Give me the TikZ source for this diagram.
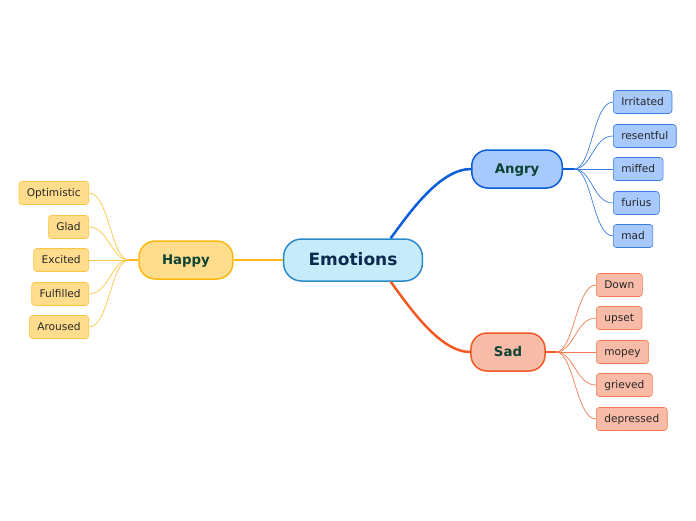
\documentclass[tikz,border=0pt]{standalone}
\usepackage{fontspec}
\setmainfont{DejaVu Sans}
\usepackage{xcolor}
\usepackage{tikz}
\usetikzlibrary{positioning}
\definecolor{rootfill}{HTML}{C6ECFC}
\definecolor{rootline}{HTML}{2B8ACB}
\definecolor{roottext}{HTML}{0B2A4E}
\definecolor{maintext}{HTML}{0B4233}
\definecolor{angryfill}{HTML}{A7C9FB}
\definecolor{angryline}{HTML}{0B5ED7}
\definecolor{sadfill}{HTML}{F8BBA8}
\definecolor{sadline}{HTML}{F15A24}
\definecolor{happyfill}{HTML}{FFDD8D}
\definecolor{happyline}{HTML}{FDB813}

\begin{document}
\begin{tikzpicture}[
  x=1pt, y=-1pt,
  root/.style={rectangle, draw=rootline, fill=rootfill, line width=1.5pt, rounded corners=18pt, minimum height=42pt, inner xsep=25pt, text height=12.4pt, text depth=0.8pt, font=\fontsize{17}{20}\selectfont\bfseries, text=roottext},
  topic/.style={rectangle, line width=1.5pt, rounded corners=16pt, minimum height=38pt, inner xsep=23pt, text height=9.7pt, text depth=1.5pt, font=\fontsize{13.3}{16}\selectfont\bfseries, text=maintext},
  leaf/.style={rectangle, line width=0.6pt, rounded corners=3pt, minimum height=23pt, inner xsep=8pt, text height=7.7pt, text depth=0pt, font=\fontsize{10.6}{13}\selectfont, text=black!85},
  branch/.style={line width=2.5pt},
  twig/.style={line width=0.7pt}
]
\useasboundingbox (0,0) rectangle (696,520);

% Centre
\node[root] (emotions) at (353,260) {Emotions};

% Main topics
\node[topic, draw=angryline, fill=angryfill] (angry) at (517,169) {Angry};
\node[topic, draw=sadline, fill=sadfill] (sad) at (508,352) {Sad};
\node[topic, draw=happyline, fill=happyfill] (happy) at (186,260) {Happy};

\draw[branch, angryline] (emotions.30) .. controls (410,212) and (440,169) .. (angry.west);
\draw[branch, sadline] (emotions.-30) .. controls (410,308) and (440,352) .. (sad.west);
\draw[branch, happyline] (emotions.west) -- (happy.east);

% Angry leaves
\coordinate (angryfan) at (574,169);
\node[leaf, draw=angryline!80, fill=angryfill, anchor=west] (irritated) at (613,102) {Irritated};
\node[leaf, draw=angryline!80, fill=angryfill, anchor=west] (resentful) at (613,136) {resentful};
\node[leaf, draw=angryline!80, fill=angryfill, anchor=west] (miffed) at (613,169) {miffed};
\node[leaf, draw=angryline!80, fill=angryfill, anchor=west] (furius) at (613,203) {furius};
\node[leaf, draw=angryline!80, fill=angryfill, anchor=west] (mad) at (613,236) {mad};

\draw[branch, angryline, line width=1.5pt] (angry.east) -- (angryfan);
\draw[twig, angryline!80] (angryfan) .. controls +(18,0) and +(-20,0) .. (irritated.west);
\draw[twig, angryline!80] (angryfan) .. controls +(18,0) and +(-20,0) .. (resentful.west);
\draw[twig, angryline!80] (angryfan) -- (miffed.west);
\draw[twig, angryline!80] (angryfan) .. controls +(18,0) and +(-20,0) .. (furius.west);
\draw[twig, angryline!80] (angryfan) .. controls +(18,0) and +(-20,0) .. (mad.west);

% Sad leaves
\coordinate (sadfan) at (556,352);
\node[leaf, draw=sadline!80, fill=sadfill, anchor=west] (down) at (596,285) {Down};
\node[leaf, draw=sadline!80, fill=sadfill, anchor=west] (upset) at (596,318) {upset};
\node[leaf, draw=sadline!80, fill=sadfill, anchor=west] (mopey) at (596,352) {mopey};
\node[leaf, draw=sadline!80, fill=sadfill, anchor=west] (grieved) at (596,385) {grieved};
\node[leaf, draw=sadline!80, fill=sadfill, anchor=west] (depressed) at (596,419) {depressed};

\draw[branch, sadline, line width=1.5pt] (sad.east) -- (sadfan);
\draw[twig, sadline!80] (sadfan) .. controls +(18,0) and +(-20,0) .. (down.west);
\draw[twig, sadline!80] (sadfan) .. controls +(18,0) and +(-20,0) .. (upset.west);
\draw[twig, sadline!80] (sadfan) -- (mopey.west);
\draw[twig, sadline!80] (sadfan) .. controls +(18,0) and +(-20,0) .. (grieved.west);
\draw[twig, sadline!80] (sadfan) .. controls +(18,0) and +(-20,0) .. (depressed.west);

% Happy leaves
\coordinate (happyfan) at (129,260);
\node[leaf, draw=happyline!80, fill=happyfill, anchor=east] (optimistic) at (89,193) {Optimistic};
\node[leaf, draw=happyline!80, fill=happyfill, anchor=east] (glad) at (89,227) {Glad};
\node[leaf, draw=happyline!80, fill=happyfill, anchor=east] (excited) at (89,260) {Excited};
\node[leaf, draw=happyline!80, fill=happyfill, anchor=east] (fulfilled) at (89,294) {Fulfilled};
\node[leaf, draw=happyline!80, fill=happyfill, anchor=east] (aroused) at (89,327) {Aroused};

\draw[branch, happyline, line width=1.5pt] (happy.west) -- (happyfan);
\draw[twig, happyline!80] (happyfan) .. controls +(-18,0) and +(20,0) .. (optimistic.east);
\draw[twig, happyline!80] (happyfan) .. controls +(-18,0) and +(20,0) .. (glad.east);
\draw[twig, happyline!80] (happyfan) -- (excited.east);
\draw[twig, happyline!80] (happyfan) .. controls +(-18,0) and +(20,0) .. (fulfilled.east);
\draw[twig, happyline!80] (happyfan) .. controls +(-18,0) and +(20,0) .. (aroused.east);

\end{tikzpicture}
\end{document}
